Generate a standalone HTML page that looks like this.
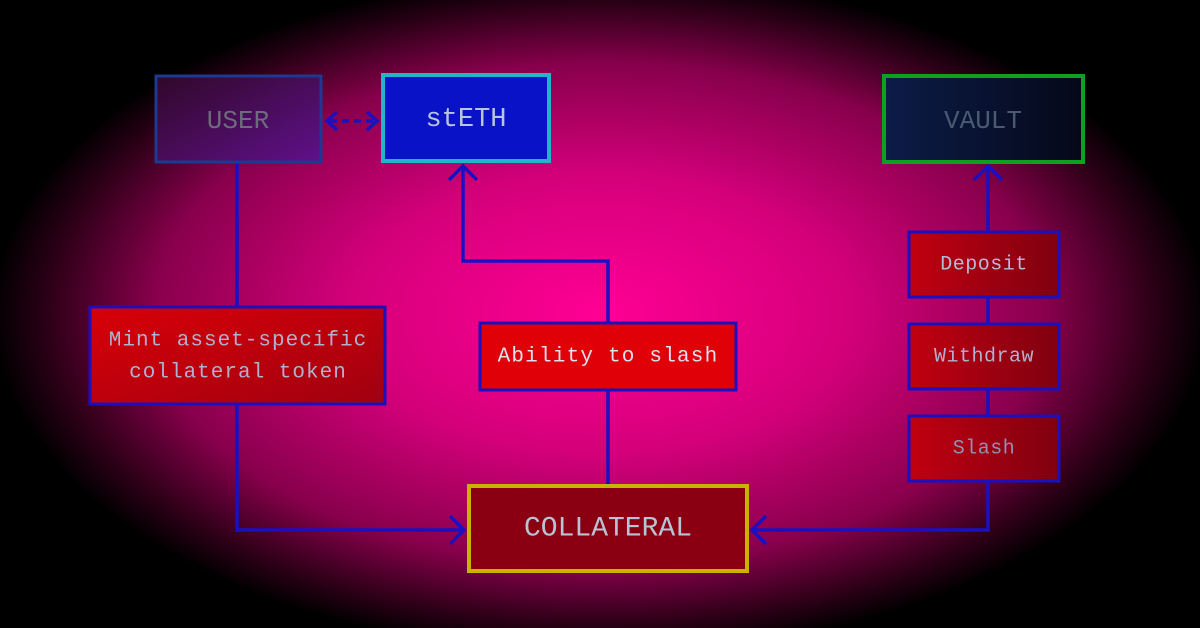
<!DOCTYPE html>
<html><head><meta charset="utf-8"><style>
html,body{margin:0;padding:0;background:#000}
svg{display:block}
text{font-family:"Liberation Mono","DejaVu Sans Mono",monospace;text-anchor:middle;dominant-baseline:central}
</style></head><body>
<svg width="1200" height="628" viewBox="0 0 1200 628" xmlns="http://www.w3.org/2000/svg">
<defs>
<radialGradient id="bg" cx="600" cy="314" r="620" gradientUnits="userSpaceOnUse" gradientTransform="translate(600 314) scale(1 0.56) translate(-600 -314)">
<stop offset="0" stop-color="#ff0094"/>
<stop offset="0.4" stop-color="#d4007a"/>
<stop offset="0.72" stop-color="#88004c"/>
<stop offset="0.9" stop-color="#280014"/>
<stop offset="0.98" stop-color="#000"/>
</radialGradient>
<linearGradient id="vault" x1="0" y1="0" x2="1" y2="0"><stop offset="0" stop-color="#0c1c48"/><stop offset="1" stop-color="#050818"/></linearGradient>
<linearGradient id="user" x1="0" y1="0" x2="1" y2="1"><stop offset="0" stop-color="#300828"/><stop offset="1" stop-color="#60108a"/></linearGradient>
<linearGradient id="red" x1="0" y1="0" x2="1" y2="1"><stop offset="0" stop-color="#d80008"/><stop offset="1" stop-color="#a00010"/></linearGradient>
<linearGradient id="redr" x1="0" y1="0" x2="1" y2="0"><stop offset="0" stop-color="#c00010"/><stop offset="1" stop-color="#800010"/></linearGradient>
</defs>
<rect width="1200" height="628" fill="url(#bg)"/>
<g stroke="#1a10c0" stroke-width="3.5" fill="none">
<polyline points="237,162 237,530 464,530"/>
<polyline points="450,516 464,530 450,544"/>
<line x1="608" y1="485" x2="608" y2="390"/>
<polyline points="608,322 608,261 463,261 463,166"/>
<polyline points="449,180 463,166 477,180"/>
<line x1="988" y1="166" x2="988" y2="481"/>
<polyline points="974,180 988,166 1002,180"/>
<polyline points="988,481 988,530 752,530"/>
<polyline points="766,516 752,530 766,544"/>
<line x1="330" y1="121" x2="374" y2="121" stroke-dasharray="7,5"/>
<polyline points="337,112 327,121 337,130"/>
<polyline points="367,112 377,121 367,130"/>
</g>
<rect x="156" y="76" width="165" height="86" fill="url(#user)" stroke="#1c3a90" stroke-width="3"/>
<text x="238" y="121" font-size="26" fill="#6c6c7a">USER</text>
<rect x="383" y="75" width="166" height="86" fill="#0a12c8" stroke="#22b4c8" stroke-width="4"/>
<text x="466" y="120" font-size="27" fill="#b8c4dc">stETH</text>
<rect x="884" y="76" width="199" height="86" fill="url(#vault)" stroke="#10a020" stroke-width="4"/>
<text x="983" y="121" font-size="26" fill="#4a5a72">VAULT</text>
<rect x="90" y="307" width="295" height="97" fill="url(#red)" stroke="#1a10c0" stroke-width="3"/>
<text x="238" y="341" font-size="21" letter-spacing="1" fill="#b0b0d0">Mint asset-specific</text>
<text x="238" y="373" font-size="21" letter-spacing="1" fill="#b0b0d0">collateral token</text>
<rect x="480" y="323" width="256" height="67" fill="#e00008" stroke="#1a10c0" stroke-width="3"/>
<text x="608" y="357" font-size="21" letter-spacing="1.2" fill="#e0e0f0">Ability to slash</text>
<rect x="909" y="232" width="150" height="65" fill="url(#redr)" stroke="#1a10c0" stroke-width="3"/>
<text x="984" y="265" font-size="20" letter-spacing="0.5" fill="#b8b8d8">Deposit</text>
<rect x="909" y="324" width="150" height="65" fill="url(#redr)" stroke="#1a10c0" stroke-width="3"/>
<text x="984" y="357" font-size="20" letter-spacing="0.5" fill="#b0b0d0">Withdraw</text>
<rect x="909" y="416" width="150" height="65" fill="url(#redr)" stroke="#1a10c0" stroke-width="3"/>
<text x="984" y="449" font-size="20" letter-spacing="0.5" fill="#9090b8">Slash</text>
<rect x="469" y="486" width="278" height="85" fill="#8a0012" stroke="#c8b400" stroke-width="4"/>
<text x="608" y="529" font-size="28" fill="#b8c4d4">COLLATERAL</text>
</svg>
</body></html>
